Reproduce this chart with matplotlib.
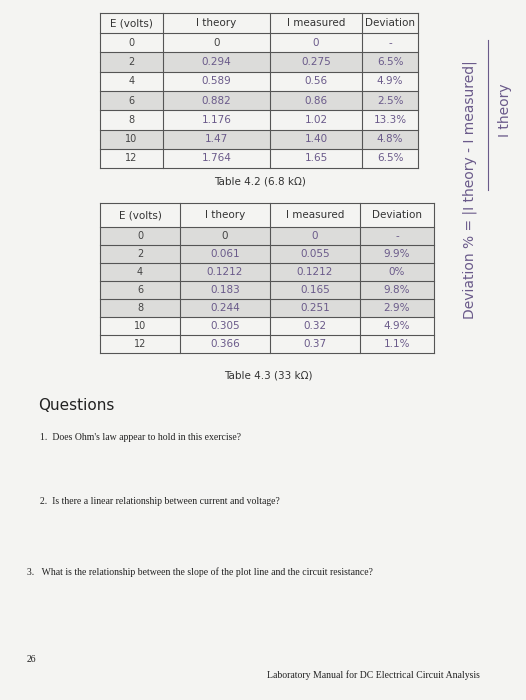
import matplotlib
matplotlib.use("Agg")
import matplotlib.pyplot as plt

headers = ["E (volts)", "I theory", "I measured", "Deviation"]
e_volts = ["0", "2", "4", "6", "8", "10", "12"]
t1_theory = ["0", "0.294", "0.589", "0.882", "1.176", "1.47", "1.764"]
t1_meas = ["0", "0.275", "0.56", "0.86", "1.02", "1.40", "1.65"]
t1_dev = ["-", "6.5%", "4.9%", "2.5%", "13.3%", "4.8%", "6.5%"]
t2_theory = ["0", "0.061", "0.1212", "0.183", "0.244", "0.305", "0.366"]
t2_meas = ["0", "0.055", "0.1212", "0.165", "0.251", "0.32", "0.37"]
t2_dev = ["-", "9.9%", "0%", "9.8%", "2.9%", "4.9%", "1.1%"]

fig = plt.figure(figsize=(5.26, 7.0), dpi=100)
fig.patch.set_facecolor("#f4f4f2")
ax = fig.add_axes([0, 0, 1, 1])
ax.set_xlim(0, 526); ax.set_ylim(700, 0); ax.axis("off")

ink = "#6a5a8a"
def table(x, y, hh, rh, theory, meas, dev, shade):
    n = len(e_volts)
    ybot = y + hh + rh * n
    for i in range(n):
        yy = y + hh + rh * i
        if shade(i):
            ax.fill_between([x[0], x[-1]], yy, yy + rh, color="#dcdcda", lw=0)
    for xx in x:
        ax.plot([xx, xx], [y, ybot], color="#555", lw=0.8)
    ax.plot([x[0], x[-1]], [y, y], color="#555", lw=0.8)
    for i in range(n + 1):
        yy = y + hh + rh * i
        ax.plot([x[0], x[-1]], [yy, yy], color="#555", lw=0.8)
    for j, h in enumerate(headers):
        ax.text((x[j] + x[j+1]) / 2, y + hh / 2, h, ha="center", va="center", fontsize=7.5, color="#333")
    for i in range(n):
        cy = y + hh + rh * (i + 0.5)
        ax.text((x[0] + x[1]) / 2, cy, e_volts[i], ha="center", va="center", fontsize=7, color="#444")
        ax.text((x[1] + x[2]) / 2, cy, theory[i], ha="center", va="center", fontsize=7.5, color=ink if i else "#444")
        ax.text((x[2] + x[3]) / 2, cy, meas[i], ha="center", va="center", fontsize=7.5, color=ink)
        ax.text((x[3] + x[4]) / 2, cy, dev[i], ha="center", va="center", fontsize=7.5, color=ink)
    return ybot

b1 = table([100, 163, 270, 362, 418], 13, 20, 19.3, t1_theory, t1_meas, t1_dev, lambda i: i % 2 == 1)
ax.text(260, 182, "Table 4.2 (6.8 kΩ)", ha="center", va="center", fontsize=7.5, color="#333")
b2 = table([100, 180, 270, 360, 434], 203, 24, 18, t2_theory, t2_meas, t2_dev, lambda i: i < 5)
ax.text(268, 376, "Table 4.3 (33 kΩ)", ha="center", va="center", fontsize=7.5, color="#333")

ax.text(470, 190, "Deviation % = |I theory - I measured|", rotation=90, ha="center", va="center", fontsize=10, color=ink)
ax.text(505, 110, "I theory", rotation=90, ha="center", va="center", fontsize=10, color=ink)
ax.plot([488, 488], [40, 190], color=ink, lw=0.8)

ax.text(38, 406, "Questions", fontsize=11, color="#222", va="center")
ser = "Liberation Serif"
ax.text(40, 438, "1.  Does Ohm's law appear to hold in this exercise?", fontsize=7, family=ser, color="#222", va="center")
ax.text(40, 501, "2.  Is there a linear relationship between current and voltage?", fontsize=7, family=ser, color="#222", va="center")
ax.text(27, 572, "3.   What is the relationship between the slope of the plot line and the circuit resistance?", fontsize=7, family=ser, color="#222", va="center")
ax.text(27, 660, "26", fontsize=7, family=ser, color="#222", va="center")
ax.text(480, 675, "Laboratory Manual for DC Electrical Circuit Analysis", fontsize=7, family=ser, color="#222", va="center", ha="right")

fig.savefig("out.png", dpi=100, facecolor=fig.get_facecolor())
